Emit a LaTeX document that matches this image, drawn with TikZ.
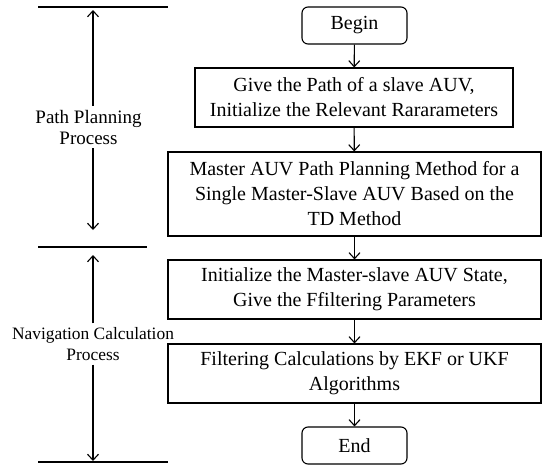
\documentclass[tikz,border=0pt]{standalone}
\usepackage{fontspec}
\setmainfont{Liberation Serif}
\usetikzlibrary{arrows.meta}
\begin{document}
\begin{tikzpicture}[x=1pt, y=-1pt, line width=1.1pt,
  >={Straight Barb[length=6pt,width=11pt]},
  font=\fontsize{20}{25}\selectfont,
  box/.style={draw, align=center, inner sep=0pt, minimum height=59pt},
  term/.style={box, rounded corners=6pt, minimum width=105pt, minimum height=37pt},
  side/.style={align=center, font=\fontsize{19}{21}\selectfont}]
\useasboundingbox (0,0) rectangle (550,472);
% flow chart
\node [term] (b) at (354.5,25.5) {Begin};
\node [box, minimum width=318pt] (s1) at (354,97.5) {Give the Path of a slave AUV,\\Initialize the Relevant Rararameters};
\node [box, minimum width=373pt, minimum height=84pt] (s2) at (354.5,194) {Master AUV Path Planning Method for a\\Single Master-Slave AUV Based on the\\TD Method};
\node [box, minimum width=373pt] (s3) at (354.5,289.5) {Initialize the Master-slave AUV State,\\Give the Ffiltering Parameters};
\node [box, minimum width=373pt] (s4) at (354.5,373.5) {Filtering Calculations by EKF or UKF\\Algorithms};
\node [term] (e) at (354.5,445.5) {End};
\draw [->] (b) -- (s1);
\draw [->] (s1) -- (s2);
\draw [->] (s2) -- (s3);
\draw [->] (s3) -- (s4);
\draw [->] (s4) -- (e);
% process marks
\draw (38,7) -- (168,7);
\draw (38,247) -- (147,247);
\draw (38,462) -- (168,462);
\node [side] (pp) at (88.5,127) {Path Planning\\Process};
\coordinate (pp1) at (93,10);
\coordinate (pp2) at (93,230);
\draw [->] (pp1 |- pp.north) -- (pp1);
\draw [->] (pp2 |- pp.south) -- (pp2);
\node [side, font=\fontsize{17.4}{21}\selectfont] (nc) at (93,344) {Navigation Calculation\\Process};
\coordinate (nc1) at (93,255);
\coordinate (nc2) at (93,461);
\draw [->] (nc) -- (nc1);
\draw [->] (nc) -- (nc2);
\end{tikzpicture}
\end{document}
